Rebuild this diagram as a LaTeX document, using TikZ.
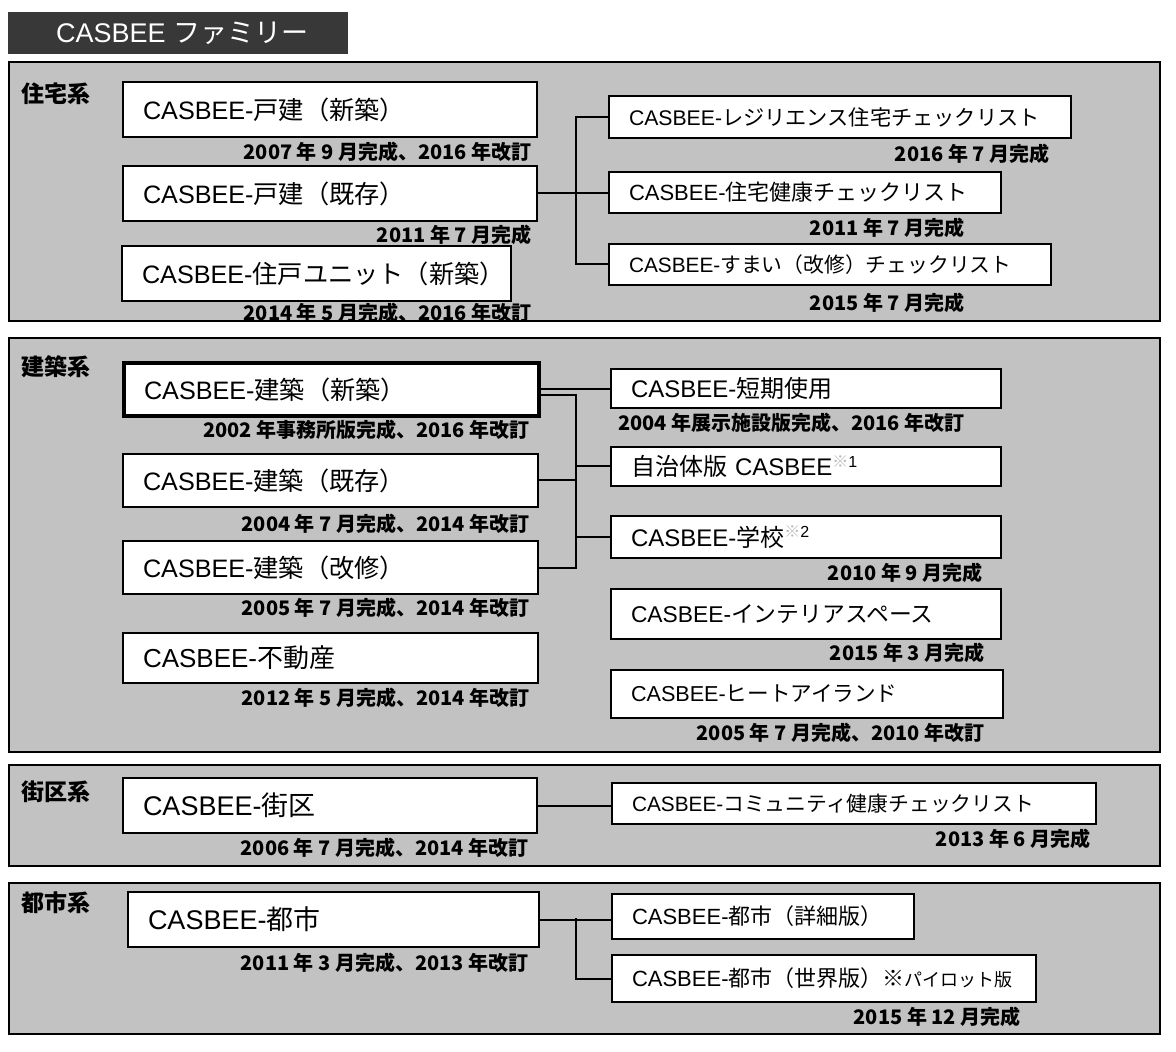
\documentclass[tikz,border=0pt]{standalone}
\usepackage{fontspec}
\setmainfont{Liberation Sans}
\newfontfamily\jp{Noto Sans CJK JP}
\usetikzlibrary{positioning}
\definecolor{panel}{gray}{0.76}
\definecolor{bar}{gray}{0.22}
\exhyphenpenalty=10000

\begin{document}
\begin{tikzpicture}[x=0.5pt,y=-0.5pt,
    box/.style={draw,fill=white,line width=1pt,anchor=north west,align=left,
        inner xsep=10pt,inner ysep=1pt,font=\fontsize{12.6}{14}\selectfont},
    fs/.style={font=\fontsize{#1}{#1}\selectfont},
    date/.style={anchor=east,inner sep=0pt,font=\jp\bfseries\fontsize{10}{12}\selectfont},
    cat/.style={anchor=west,inner sep=0pt,font=\jp\bfseries\fontsize{11.5}{13}\selectfont},
    link/.style={line width=1pt}]
    \def\note#1{\textsuperscript{\textcolor{gray!55}{\jp ※}#1}}

    \useasboundingbox[fill=white] (0,0) rectangle (1176,1052);

    \fill[bar] (8,12) rectangle (348,54);
    \node[anchor=west,text=white,fs=13.5] (title) at (49,33) {CASBEE {\jp ファミリー}};

    \foreach \top/\bot in {62/321,338/752,765/866,883/1034}
        \draw[fill=panel,line width=1.2pt] (9,\top) rectangle (1160,\bot);

    \node[cat] (jutaku) at (21,94) {住宅系};
    \node[cat] (kenchiku) at (21,367) {建築系};
    \node[cat] (gaiku) at (21,792) {街区系};
    \node[cat] (toshi) at (21,903) {都市系};

    \node[box,text width=187pt,minimum height=27.5pt] (kodateN) at (122,81) {CASBEE-\jp 戸建（新築）};
    \node[box,text width=187pt,minimum height=27.5pt] (kodateK) at (122,165) {CASBEE-\jp 戸建（既存）};
    \node[box,text width=174.5pt,minimum height=27.5pt] (unit) at (121,245) {CASBEE-\jp 住戸ユニット（新築）};
    \node[date] (kodateNd) at (532,152) {2007 年 9 月完成、2016 年改訂};
    \node[date] (kodateKd) at (532,235) {2011 年 7 月完成};
    \node[date] (unitd) at (532,313) {2014 年 5 月完成、2016 年改訂};

    \node[box,fs=10.6,text width=211pt,minimum height=21pt] (resil) at (608,95) {CASBEE-\jp レジリエンス住宅チェックリスト};
    \node[box,fs=11,text width=176pt,minimum height=20.5pt] (kenko) at (608,171) {CASBEE-\jp 住宅健康チェックリスト};
    \node[box,fs=10.4,text width=201pt,minimum height=20.5pt] (sumai) at (608,243) {CASBEE-\jp すまい（改修）チェックリスト};
    \node[date] (resild) at (1050,154) {2016 年 7 月完成};
    \node[date] (kenkod) at (965,228) {2011 年 7 月完成};
    \node[date] (sumaid) at (965,303) {2015 年 7 月完成};

    \coordinate (hubA) at (576,192);
    \draw[link] (kodateK.east) -- (kodateK.east -| kenko.west);
    \draw[link] (resil.west) -| (hubA) |- (sumai.west);

    \node[box,line width=2pt,text width=187.5pt,minimum height=26.5pt] (shinchiku) at (122,361) {CASBEE-\jp 建築（新築）};
    \node[box,text width=187.5pt,minimum height=26.5pt] (kizon) at (122,453) {CASBEE-\jp 建築（既存）};
    \node[box,text width=187.5pt,minimum height=26.5pt] (kaishu) at (122,540) {CASBEE-\jp 建築（改修）};
    \node[box,fs=13,text width=187.5pt,minimum height=25pt] (fudosan) at (122,632) {CASBEE-\jp 不動産};
    \node[date] (shinchikud) at (530,430) {2002 年事務所版完成、2016 年改訂};
    \node[date] (kizond) at (530,524) {2004 年 7 月完成、2014 年改訂};
    \node[date] (kaishud) at (530,608) {2005 年 7 月完成、2014 年改訂};
    \node[date] (fudosand) at (530,698) {2012 年 5 月完成、2014 年改訂};

    \node[box,fs=12,text width=175pt,minimum height=19.5pt] (tanki) at (610,368) {CASBEE-\jp 短期使用};
    \node[box,fs=12,text width=175pt,minimum height=19.5pt] (jichitai) at (610,446) {{\jp 自治体版} CASBEE\note{1}};
    \node[box,fs=12,text width=175pt,minimum height=21pt] (gakko) at (610,515) {CASBEE-{\jp 学校}\note{2}};
    \node[box,fs=11.4,text width=175pt,minimum height=25pt] (interior) at (610,588) {CASBEE-\jp インテリアスペース};
    \node[box,fs=10.8,text width=176pt,minimum height=24pt] (heat) at (610,669) {CASBEE-\jp ヒートアイランド};
    \node[date] (tankid) at (965,423) {2004 年展示施設版完成、2016 年改訂};
    \node[date] (gakkod) at (983,573) {2010 年 9 月完成};
    \node[date] (interiord) at (985,653) {2015 年 3 月完成};
    \node[date] (heatd) at (985,733) {2005 年 7 月完成、2010 年改訂};

    \coordinate (hubB) at (576,395);
    \draw[link] (shinchiku.east) -- (shinchiku.east -| tanki.west);
    \draw[link] (shinchiku.east |- hubB) -- (hubB) |- (kaishu.east);
    \draw[link] (kizon.east) -- (kizon.east -| hubB);
    \draw[link] (hubB |- jichitai.west) -- (jichitai.west);
    \draw[link] (hubB |- gakko.west) -- (gakko.west);

    \node[box,fs=13.5,text width=187pt,minimum height=27.5pt] (machi) at (122,777) {CASBEE-\jp 街区};
    \node[box,fs=10.4,text width=222pt,minimum height=20.5pt] (community) at (611,782) {CASBEE-\jp コミュニティ健康チェックリスト};
    \node[date] (machid) at (529,848) {2006 年 7 月完成、2014 年改訂};
    \node[date] (communityd) at (1091,839) {2013 年 6 月完成};
    \draw[link] (machi.east) -- (machi.east -| community.west);

    \node[box,fs=13.5,text width=185.5pt,minimum height=27.5pt] (city) at (127,891) {CASBEE-\jp 都市};
    \node[box,fs=11,text width=131pt,minimum height=22.5pt] (detail) at (611,893) {CASBEE-\jp 都市（詳細版）};
    \node[box,fs=11,text width=192pt,minimum height=23.5pt] (world) at (611,954) {CASBEE-\jp 都市（世界版）※{\fontsize{9}{10}\selectfont パイロット版}};
    \node[date] (cityd) at (529,963) {2011 年 3 月完成、2013 年改訂};
    \node[date] (worldd) at (1021,1017) {2015 年 12 月完成};

    \coordinate (hubD) at (576,918);
    \draw[link] (city.east) -- (city.east -| detail.west);
    \draw[link] (hubD) |- (world.west);
\end{tikzpicture}
\end{document}
